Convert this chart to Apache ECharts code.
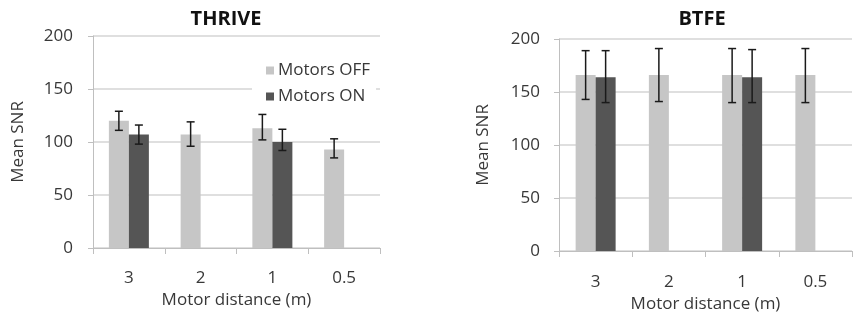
<!DOCTYPE html>
<html>
<head>
<meta charset="utf-8">
<script src="https://cdn.jsdelivr.net/npm/echarts@6/dist/echarts.min.js"></script>
<style>
  html, body { margin: 0; padding: 0; background: #fff; }
  #chart { width: 859px; height: 321px; }
</style>
</head>
<body>
<div id="chart"></div>
<script>
// 数据
var categories = ['3', '2', '1', '0.5']
var yTicks = [0, 50, 100, 150, 200]

var thriveOff = [120, 107, 113, 93]
var thriveOffHigh = [129, 119, 126, 103]
var thriveOffLow = [111, 96, 102, 85]
var thriveOn = [107, null, 100, null]
var thriveOnHigh = [116, null, 112, null]
var thriveOnLow = [98, null, 92, null]

var btfeOff = [166, 166, 166, 166]
var btfeOffHigh = [189, 191, 191, 191]
var btfeOffLow = [143, 141, 140, 140]
var btfeOn = [164, null, 164, null]
var btfeOnHigh = [189, null, 190, null]
var btfeOnLow = [140, null, 140, null]

var FONT = 'Open Sans'
var TEXT = '#383838'
var BAR_W = 20

function errData (high, low) {
  var out = []
  high.forEach(function (h, i) {
    if (h != null) out.push([i, h, low[i]])
  })
  return out
}

// 误差线
function errorSeries (name, idx, high, low, offset) {
  return {
    name: name + '-err',
    type: 'custom',
    xAxisIndex: idx,
    yAxisIndex: idx,
    z: 5,
    data: errData(high, low),
    renderItem: function (params, api) {
      var top = api.coord([api.value(0), api.value(1)])
      var bot = api.coord([api.value(0), api.value(2)])
      var x = top[0] + offset
      var cap = 4
      var style = { stroke: '#1a1a1a', lineWidth: 1.5 }
      return {
        type: 'group',
        children: [
          { type: 'line', shape: { x1: x, y1: top[1], x2: x, y2: bot[1] }, style: style },
          { type: 'line', shape: { x1: x - cap, y1: top[1], x2: x + cap, y2: top[1] }, style: style },
          { type: 'line', shape: { x1: x - cap, y1: bot[1], x2: x + cap, y2: bot[1] }, style: style }
        ]
      }
    }
  }
}

function xAxis (idx, margin, nameGap) {
  return {
    type: 'category',
    gridIndex: idx,
    data: categories,
    name: 'Motor distance (m)',
    nameLocation: 'middle',
    nameGap: nameGap,
    nameTextStyle: { color: TEXT, fontFamily: FONT, fontSize: 17 },
    axisLine: { lineStyle: { color: '#bfbfbf', width: 1 } },
    axisTick: { show: true, length: 6, lineStyle: { color: '#bfbfbf' } },
    axisLabel: { color: TEXT, fontFamily: FONT, fontSize: 17, margin: margin }
  }
}

function yAxis (idx, nameGap, margin) {
  return {
    type: 'value',
    gridIndex: idx,
    min: yTicks[0],
    max: yTicks[yTicks.length - 1],
    interval: 50,
    name: 'Mean SNR',
    nameLocation: 'middle',
    nameGap: nameGap,
    nameTextStyle: { color: TEXT, fontFamily: FONT, fontSize: 17 },
    axisLine: { show: true, lineStyle: { color: '#bfbfbf', width: 1 } },
    axisTick: { show: true, length: 5, lineStyle: { color: '#bfbfbf' } },
    axisLabel: { color: TEXT, fontFamily: FONT, fontSize: 17, margin: margin },
    splitLine: { lineStyle: { color: '#d4d4d4', width: 1.5 } }
  }
}

function barSeries (name, idx, data, color) {
  return {
    name: name,
    type: 'bar',
    xAxisIndex: idx,
    yAxisIndex: idx,
    data: data,
    barWidth: BAR_W,
    barGap: '0%',
    itemStyle: { color: color }
  }
}

var option = {
  animation: false,
  title: [
    { text: 'THRIVE', left: 221, top: 4, textAlign: 'center',
      textStyle: { fontFamily: FONT, fontSize: 20, fontWeight: 'bold', color: '#111' } },
    { text: 'BTFE', left: 697, top: 4, textAlign: 'center',
      textStyle: { fontFamily: FONT, fontSize: 20, fontWeight: 'bold', color: '#111' } }
  ],
  legend: {
    data: ['Motors OFF', 'Motors ON'],
    orient: 'vertical',
    left: 252,
    top: 56,
    itemWidth: 8,
    itemHeight: 8,
    itemGap: 9,
    backgroundColor: '#fff',
    padding: [6, 6, 6, 14],
    icon: 'rect',
    textStyle: { color: TEXT, fontFamily: FONT, fontSize: 17, padding: [0, 0, 0, -1] }
  },
  grid: [
    { left: 93, top: 36, width: 287, height: 212 },
    { left: 559, top: 39, width: 293, height: 212 }
  ],
  xAxis: [xAxis(0, 22, 41), xAxis(1, 23, 42)],
  yAxis: [yAxis(0, 66, 20), yAxis(1, 67, 19)],
  series: [
    barSeries('Motors OFF', 0, thriveOff, '#c6c6c6'),
    barSeries('Motors ON', 0, thriveOn, '#555555'),
    barSeries('Motors OFF', 1, btfeOff, '#c6c6c6'),
    barSeries('Motors ON', 1, btfeOn, '#555555'),
    errorSeries('thriveOff', 0, thriveOffHigh, thriveOffLow, -BAR_W / 2),
    errorSeries('thriveOn', 0, thriveOnHigh, thriveOnLow, BAR_W / 2),
    errorSeries('btfeOff', 1, btfeOffHigh, btfeOffLow, -BAR_W / 2),
    errorSeries('btfeOn', 1, btfeOnHigh, btfeOnLow, BAR_W / 2)
  ]
}

var myChart = echarts.init(document.getElementById('chart'))
myChart.setOption(option)
</script>
</body>
</html>
